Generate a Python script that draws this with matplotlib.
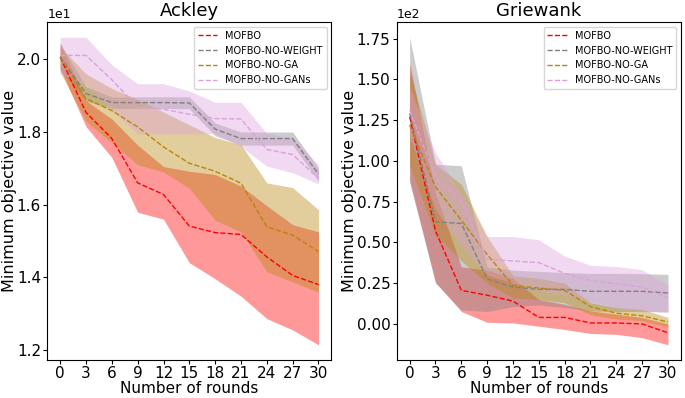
import numpy as np
import matplotlib
matplotlib.use("Agg")
import matplotlib.pyplot as plt

rounds = [0, 3, 6, 9, 12, 15, 18, 21, 24, 27, 30]
names = ["MOFBO", "MOFBO-NO-WEIGHT", "MOFBO-NO-GA", "MOFBO-NO-GANs"]
colors = ["red", "gray", "darkgoldenrod", "plum"]

# Ackley
ack_mofbo = [20.07, 18.54, 17.82, 16.60, 16.28, 15.41, 15.23, 15.18, 14.56, 14.05, 13.80]
ack_mofbo_hi = [20.45, 18.86, 18.36, 17.64, 17.05, 16.92, 16.83, 16.51, 15.97, 15.45, 15.25]
ack_mofbo_lo = [19.75, 18.15, 17.30, 15.79, 15.60, 14.40, 13.96, 13.48, 12.86, 12.55, 12.14]
ack_noweight = [20.07, 19.06, 18.81, 18.81, 18.81, 18.80, 18.08, 17.82, 17.82, 17.82, 16.84]
ack_noweight_hi = [20.45, 19.25, 18.97, 18.97, 18.97, 18.97, 18.25, 18.00, 18.00, 18.00, 17.00]
ack_noweight_lo = [19.70, 18.85, 18.65, 18.65, 18.65, 18.64, 17.90, 17.64, 17.64, 17.64, 16.65]
ack_noga = [20.07, 18.92, 18.59, 18.14, 17.59, 17.14, 16.92, 16.59, 15.39, 15.16, 14.71]
ack_noga_hi = [20.35, 19.60, 19.20, 18.90, 18.55, 18.20, 17.85, 17.65, 16.60, 16.47, 15.86]
ack_noga_lo = [19.65, 18.30, 17.70, 17.10, 16.90, 16.45, 15.57, 15.25, 14.15, 13.87, 13.59]
ack_nogans = [20.11, 20.11, 19.44, 18.68, 18.63, 18.49, 18.37, 18.36, 17.52, 17.38, 16.72]
ack_nogans_hi = [20.61, 20.61, 19.85, 19.33, 19.33, 19.13, 18.82, 18.82, 17.96, 17.84, 17.10]
ack_nogans_lo = [19.60, 19.30, 18.60, 17.95, 17.95, 17.95, 17.95, 17.60, 17.06, 16.88, 16.57]

# Griewank
gri_mofbo = [127, 57, 20.6, 17.6, 14.0, 4.0, 4.0, 0.6, 0.6, 0.0, -5.4]
gri_mofbo_hi = [160, 80, 35, 33, 28, 15, 12, 8, 6, 4, 0]
gri_mofbo_lo = [88, 25.6, 7.6, 1.0, 0.6, -1.4, -3.4, -5.8, -6.4, -8.4, -12.8]
gri_noweight = [129, 62.6, 61.6, 27.6, 22.6, 21.2, 21.2, 20, 20, 20, 19]
gri_noweight_hi = [175.8, 98, 97, 35, 33, 32.2, 31.5, 31, 31, 30.8, 30.4]
gri_noweight_lo = [86.6, 25, 8.6, 7.6, 10.6, 11.6, 10, 8, 7.6, 7.6, 7.4]
gri_noga = [122, 84, 63.6, 42.6, 23.6, 22, 20.6, 10.6, 6.6, 5, 1.2]
gri_noga_hi = [155, 98, 85.6, 53.6, 29.6, 28, 25, 13, 10, 9, 4]
gri_noga_lo = [97, 55, 38.6, 25, 16, 15, 13, 5.6, 3, 2, -2]
gri_nogans = [131, 90, 75.6, 39.6, 38.6, 37.6, 31, 26.6, 24.6, 22.6, 16]
gri_nogans_hi = [145, 105, 80, 53.6, 53.6, 51.6, 41.6, 36, 35.2, 33.2, 24]
gri_nogans_lo = [115, 70, 48, 30, 25, 20, 18, 14, 10, 8, 7]

ackley = [(ack_mofbo, ack_mofbo_lo, ack_mofbo_hi),
          (ack_noweight, ack_noweight_lo, ack_noweight_hi),
          (ack_noga, ack_noga_lo, ack_noga_hi),
          (ack_nogans, ack_nogans_lo, ack_nogans_hi)]
griewank = [(gri_mofbo, gri_mofbo_lo, gri_mofbo_hi),
            (gri_noweight, gri_noweight_lo, gri_noweight_hi),
            (gri_noga, gri_noga_lo, gri_noga_hi),
            (gri_nogans, gri_nogans_lo, gri_nogans_hi)]

fig, axes = plt.subplots(1, 2, figsize=(6.85, 3.98), dpi=100)
fig.subplots_adjust(left=0.069, right=0.994, bottom=0.095, top=0.945, wspace=0.23)

for ax, data, title in zip(axes, [ackley, griewank], ["Ackley", "Griewank"]):
    for (m, lo, hi), name, c in zip(data, names, colors):
        ax.plot(rounds, m, "--", color=c, lw=1, label=name)
        ax.fill_between(rounds, lo, hi, color=c, alpha=0.4, lw=0)
    ax.set_xticks(rounds)
    ax.ticklabel_format(axis="y", style="sci", scilimits=(0, 0))
    ax.tick_params(labelsize=11, pad=1.5, length=3)
    ax.yaxis.get_offset_text().set_fontsize(9)
    ax.set_title(title, fontsize=13, pad=4)
    ax.set_xlabel("Number of rounds", fontsize=11, labelpad=0)
    ax.set_ylabel("Minimum objective value", fontsize=11.5, labelpad=0)
    ax.legend(loc="upper right", fontsize=7)

plt.savefig("out.png")
